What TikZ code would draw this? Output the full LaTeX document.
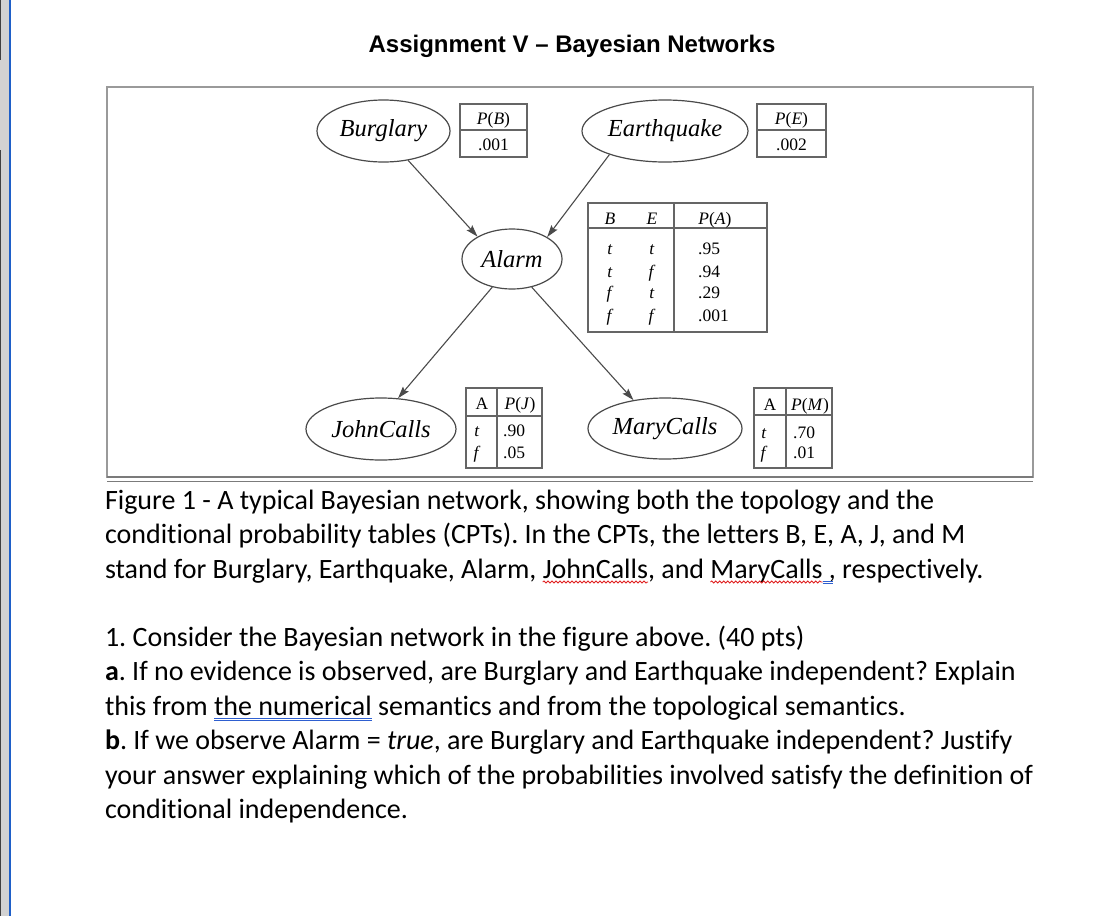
\documentclass[tikz,border=0pt]{standalone}
\usepackage{fontspec}
\setmainfont{Carlito}[Ligatures={NoCommon}]
\newfontfamily\titlefont{Liberation Sans}
\newfontfamily\tms{Liberation Serif}
\usetikzlibrary{arrows.meta,shapes.geometric,decorations.pathmorphing}
\frenchspacing
\definecolor{stripgray}{HTML}{D2D2D2}
\definecolor{stripblue}{HTML}{1E5FC8}
\definecolor{boxgray}{HTML}{9A9A9A}
\definecolor{figline}{HTML}{4A4A4A}
\definecolor{spellred}{HTML}{E02020}
\definecolor{gramblue}{HTML}{2E5FD0}
\tikzset{
  txt/.style={anchor=base west, inner sep=0pt, outer sep=0pt, font=\fontsize{28}{28}\selectfont},
  bnode/.style={ellipse, draw=figline, line width=1.2pt, inner sep=0pt,
    font=\tms\itshape\fontsize{24.5}{24.5}\selectfont},
  tt/.style={inner sep=0pt, anchor=base, font=\tms\fontsize{17.5}{17.5}\selectfont},
  ttw/.style={tt, anchor=base west},
  tline/.style={draw=figline!85, line width=1.1pt},
  arr/.style={draw=figline, line width=1.1pt, -{Stealth[length=12pt,width=7.5pt,inset=2pt]}},
  squig/.style={draw=spellred, line width=0.8pt, decorate, decoration={snake, amplitude=1.1pt, segment length=4pt}},
  gline/.style={draw=gramblue, line width=0.9pt}
}
\begin{document}
\begin{tikzpicture}[x=1pt,y=-1pt]
\useasboundingbox (0,0) rectangle (1111,916);
\fill[white] (0,0) rectangle (1111,916);
% left window strip
\fill[stripgray] (0,0) rectangle (9,916);
\fill[black!75] (0,0) rectangle (1,60);
\fill[black!75] (0,150) rectangle (1,916);
\fill[stripblue] (9,0) rectangle (11,916);

% title
\node[anchor=base, inner sep=0pt, font=\titlefont\bfseries\fontsize{24}{24}\selectfont] (title) at (572,52) {Assignment V – Bayesian Networks};

% figure frame
\draw[boxgray, line width=2pt] (107,478) -- (107,87) -- (1033,87) -- (1033,478);
\draw[boxgray!80!black, line width=1.3pt] (107,477) -- (1033,477);
\draw[boxgray!80!black, line width=1.3pt] (107,481.5) -- (1033,481.5);

% network nodes
\node[bnode, minimum width=133, minimum height=62] (burg) at (383.5,131) {Burglary};
\node[bnode, minimum width=166, minimum height=62] (quake) at (665,131) {Earthquake};
\node[bnode, minimum width=100, minimum height=60] (alarm) at (512,259) {Alarm};
\node[bnode, minimum width=150, minimum height=62] (john) at (381,429) {JohnCalls};
\node[bnode, minimum width=154, minimum height=61] (mary) at (665,428.5) {MaryCalls};

% connectors
\draw[arr] (burg.-50) -- (alarm.147);
\draw[arr] (quake.-157) -- (alarm.32);
\draw[arr] (alarm.-125) -- (john.61);
\draw[arr] (alarm.-55) -- (mary.138);

% CPT for B
\draw[tline] (460,104) rectangle (527,157);
\draw[tline] (460,130) -- (527,130);
\node[tt] (hB) at (493.5,124) {\textit{P}(\textit{B})};
\node[tt] (vB) at (493.5,150) {.001};

% CPT for E
\draw[tline] (757,104) rectangle (826,157);
\draw[tline] (757,130) -- (826,130);
\node[tt] (hE) at (791.5,124) {\textit{P}(\textit{E})};
\node[tt] (vE) at (791.5,150) {.002};

% CPT for A
\draw[tline] (588,203) rectangle (767,332);
\draw[tline] (588,228) -- (767,228);
\draw[tline] (674,203) -- (674,332);
\node[tt] (hAB) at (610,224) {\textit{B}};
\node[tt] (hAE) at (652,224) {\textit{E}};
\node[tt] (hAP) at (715,224) {\textit{P}(\textit{A})};
\node[tt] (a1b) at (610,254) {\textit{t}};
\node[tt] (a1e) at (652,254) {\textit{t}};
\node[ttw] (a1p) at (698,254) {.95};
\node[tt] (a2b) at (610,277) {\textit{t}};
\node[tt] (a2e) at (652,277) {\textit{f}};
\node[ttw] (a2p) at (698,277) {.94};
\node[tt] (a3b) at (610,298) {\textit{f}};
\node[tt] (a3e) at (652,298) {\textit{t}};
\node[ttw] (a3p) at (698,298) {.29};
\node[tt] (a4b) at (610,321) {\textit{f}};
\node[tt] (a4e) at (652,321) {\textit{f}};
\node[ttw] (a4p) at (698,321) {.001};

% CPT for J
\draw[tline] (466,388) rectangle (542,468);
\draw[tline] (466,416) -- (542,416);
\draw[tline] (497,388) -- (497,468);
\node[tt] (hJA) at (482,409) {A};
\node[tt] (hJP) at (520,409) {\textit{P}(\textit{J})};
\node[tt] (j1a) at (477,436) {\textit{t}};
\node[ttw] (j1p) at (503,436) {.90};
\node[tt] (j2a) at (477,458) {\textit{f}};
\node[ttw] (j2p) at (503,458) {.05};

% CPT for M
\draw[tline] (754,388) rectangle (832,468);
\draw[tline] (754,415) -- (832,415);
\draw[tline] (786,388) -- (786,468);
\node[tt] (hMA) at (770,410) {A};
\node[tt] (hMP) at (810,410) {\textit{P}(\textit{M})};
\node[tt] (m1a) at (764,438) {\textit{t}};
\node[ttw] (m1p) at (793,438) {.70};
\node[tt] (m2a) at (764,458) {\textit{f}};
\node[ttw] (m2p) at (793,458) {.01};

% caption
\node[txt] (c1) at (105,509) {Figure 1 - A typical Bayesian network, showing both the topology and the};
\node[txt] (c2) at (105,543.5) {conditional probability tables (CPTs). In the CPTs, the letters B, E, A, J, and M};
\node[txt] (c3a) at (105,578) {stand for Burglary, Earthquake, Alarm,\ \null};
\node[txt] (c3b) at (c3a.base east) {JohnCalls};
\node[txt] (c3c) at (c3b.base east) {, and\ \null};
\node[txt] (c3d) at (c3c.base east) {MaryCalls};
\node[txt] (c3e) at (c3d.base east) {\ \null};
\node[txt] (c3f) at (c3e.base east) {, respectively.};
\draw[squig] ([yshift=-4pt]c3b.base west) -- ([yshift=-4pt]c3b.base east);
\draw[squig] ([yshift=-4pt]c3d.base west) -- ([yshift=-4pt]c3d.base east);
\draw[gline] ([yshift=-3pt]c3e.base west) -- ([yshift=-3pt,xshift=4pt]c3e.base east);
\draw[gline] ([yshift=-5.5pt]c3e.base west) -- ([yshift=-5.5pt,xshift=4pt]c3e.base east);

% question
\node[txt] (q1) at (105,646) {1. Consider the Bayesian network in the figure above. (40 pts)};
\node[txt] (q2) at (105,680.5) {\textbf{a}. If no evidence is observed, are Burglary and Earthquake independent? Explain};
\node[txt] (q3a) at (105,715) {this from\ \null};
\node[txt] (q3b) at (q3a.base east) {the numerical};
\node[txt] (q3c) at (q3b.base east) {\ semantics and from the topological semantics.};
\draw[gline] ([yshift=-3pt]q3b.base west) -- ([yshift=-3pt]q3b.base east);
\draw[gline] ([yshift=-5.5pt]q3b.base west) -- ([yshift=-5.5pt]q3b.base east);
\node[txt] (q4) at (105,749.5) {\textbf{b}. If we observe Alarm = \textit{true}, are Burglary and Earthquake independent? Justify};
\node[txt] (q5) at (105,784) {your answer explaining which of the probabilities involved satisfy the definition of};
\node[txt] (q6) at (105,818.5) {conditional independence.};
\end{tikzpicture}
\end{document}
